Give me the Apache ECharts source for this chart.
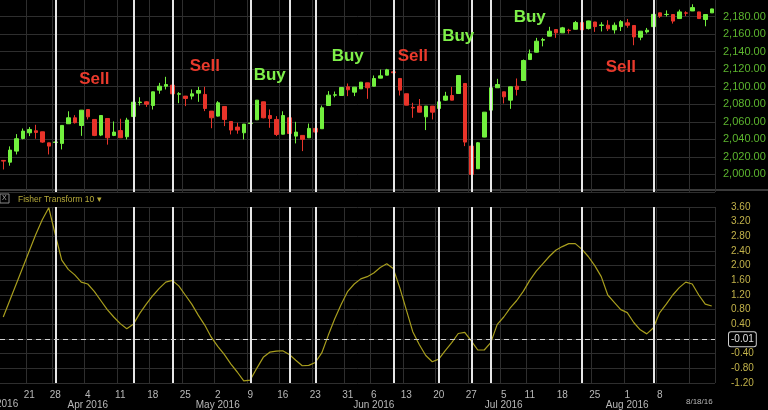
<!DOCTYPE html>
<html>
<head>
<meta charset="utf-8">
<script src="https://cdn.jsdelivr.net/npm/echarts@6/dist/echarts.min.js"></script>
<style>
  html, body { margin: 0; padding: 0; background: #000; }
  #chart { width: 768px; height: 410px; }
</style>
</head>
<body>
<div id="chart"></div>
<script>
// trading days, Mar 15 - Aug 18 2016
var tradingDays = {
    3: [15, 16, 17, 18, 21, 22, 23, 24, 28, 29, 30, 31],
    4: [1, 4, 5, 6, 7, 8, 11, 12, 13, 14, 15, 18, 19, 20, 21, 22, 25, 26, 27, 28, 29],
    5: [2, 3, 4, 5, 6, 9, 10, 11, 12, 13, 16, 17, 18, 19, 20, 23, 24, 25, 26, 27, 31],
    6: [1, 2, 3, 6, 7, 8, 9, 10, 13, 14, 15, 16, 17, 20, 21, 22, 23, 24, 27, 28, 29, 30],
    7: [1, 5, 6, 7, 8, 11, 12, 13, 14, 15, 18, 19, 20, 21, 22, 25, 26, 27, 28, 29],
    8: [1, 2, 3, 4, 5, 8, 9, 10, 11, 12, 15, 16, 17, 18]
};
var monthNames = ['', '', '', 'Mar', 'Apr', 'May', 'Jun', 'Jul', 'Aug'];

var opens = [2016, 2014, 2026.6, 2041, 2047.5, 2049.8, 2048.6, 2036, 2036.5, 2035.4, 2057.8, 2064.6,
    2055.8, 2074, 2062.7, 2044.9, 2063.8, 2044.5, 2050, 2043, 2066, 2082, 2082.8, 2078.6, 2096.1, 2100.6, 2101.8, 2091.5, 2089.3, 2089.3, 2092.7, 2091.2, 2072.2,
    2066.5, 2077.5, 2060.4, 2054, 2047.5, 2058, 2062.3, 2082.8, 2067.2, 2062.7, 2045.9, 2064.6, 2043.7, 2044.5, 2041.8, 2052.5, 2052.1, 2078.6, 2090.4, 2090, 2099.9,
    2093.8, 2097.6, 2104.4, 2100.6, 2109.8, 2113.2, 2117, 2109.4, 2092, 2076.4, 2077.9, 2065.7, 2077.9, 2075.2, 2084.7, 2090, 2092.3, 2103.7, 2032.3, 2006.5, 2042.6, 2073.3,
    2098.8, 2094.2, 2084.7, 2100.6, 2107.1, 2131, 2139.4, 2153, 2157.6, 2165.2, 2161.4, 2164.4, 2165.5, 2173.1, 2166.3, 2173.8, 2169.8, 2170.1, 2164.8, 2168.5,
    2172.8, 2169.8, 2156.4, 2162.5, 2168.5, 2184.2, 2182.3, 2182.3, 2177.7, 2184.2, 2186.4, 2185.3, 2176.6, 2184.2];
var closes = [2015.2, 2027.8, 2040.7, 2049.4, 2051.3, 2047.9, 2036.9, 2032.3, 2037, 2055.9, 2064.6, 2059,
    2073.3, 2065.7, 2044.5, 2067.2, 2041.8, 2048.3, 2041.8, 2062, 2082.4, 2082.5, 2080, 2094.2, 2100.6, 2102.5, 2091.9, 2092, 2086.6, 2091.9, 2095.7, 2075.2, 2064.6,
    2081.7, 2062.7, 2050.6, 2050.6, 2057.4, 2058.5, 2084.7, 2064.6, 2063.8, 2045.6, 2067.2, 2046.7, 2048.3, 2040, 2052.5, 2048.3, 2076, 2090.4, 2090.8, 2099.1, 2096.5,
    2099.5, 2105.2, 2098.8, 2109.4, 2112.4, 2119.3, 2115.9, 2096.1, 2079, 2075.8, 2071, 2077.9, 2071, 2082.8, 2089.3, 2084.7, 2112.8, 2036.9, 2000, 2036.1, 2071, 2098.8,
    2102.5, 2088.5, 2099.9, 2096.9, 2129.9, 2137.5, 2151.9, 2153.8, 2163.3, 2161.4, 2167.1, 2164, 2173.1, 2164.8, 2175, 2168.5, 2170.5, 2166, 2170.1, 2174.2,
    2170.1, 2156.8, 2163.3, 2164.4, 2182.5, 2180.4, 2182.5, 2174.8, 2185.3, 2183.8, 2190.2, 2177.7, 2182.3, 2188.7];
var lows = [2005.7, 2010, 2022.8, 2040, 2043.7, 2040.7, 2036, 2022.8, 2032, 2028.5, 2057.8, 2058,
    2044, 2062.7, 2043.7, 2043.7, 2034, 2043.7, 2041.5, 2040, 2065.5, 2078.6, 2077, 2074, 2092, 2096.9, 2091.2, 2081.3, 2077.9, 2085.5, 2082.8, 2072.2, 2052.7,
    2066, 2055.1, 2045.6, 2046.4, 2039.9, 2056, 2062, 2064, 2053.2, 2043.7, 2045.6, 2046.5, 2035.4, 2026.6, 2041.5, 2047.5, 2052, 2078.4, 2088, 2089.8, 2089.3,
    2089.3, 2097.4, 2086.2, 2100.4, 2109.6, 2113, 2114, 2090, 2078.8, 2064.6, 2070.8, 2050.6, 2062.7, 2075, 2084, 2084.5, 2092, 2032.3, 2000, 2006.3, 2042.4, 2070.3,
    2098.6, 2080.9, 2074.8, 2090, 2106.9, 2130.8, 2139, 2146, 2157.4, 2155.7, 2161.2, 2160.6, 2165.3, 2162.5, 2165.2, 2162.5, 2163, 2163.5, 2160.6, 2163.5,
    2167.3, 2147.3, 2153, 2160.6, 2168.3, 2178.5, 2180, 2172, 2177.5, 2180.5, 2186.2, 2177.5, 2168.9, 2184];
var highs = [2016.2, 2032, 2046, 2052.4, 2054, 2056.6, 2048.8, 2036.2, 2042.6, 2056, 2072, 2067.6,
    2073.5, 2074.2, 2063, 2067.4, 2064, 2060.4, 2063.5, 2064.6, 2083.6, 2088, 2083.6, 2094.4, 2104.4, 2111.3, 2102.4, 2093.8, 2089.5, 2096.9, 2099.9, 2099.9, 2072.4,
    2083.6, 2077.7, 2060.6, 2058.9, 2057.6, 2060, 2084.9, 2083, 2074.1, 2066.5, 2072, 2064.8, 2060, 2044.7, 2058, 2052.7, 2078.6, 2095, 2094.5, 2099.3, 2103.7,
    2099.7, 2105.4, 2104.6, 2112.8, 2119.6, 2120.4, 2118.5, 2109.6, 2092.2, 2081.7, 2086, 2078.1, 2078.1, 2083, 2094.2, 2099.9, 2113, 2103.9, 2032.5, 2036.9, 2071.2, 2099,
    2109, 2094.4, 2100.1, 2109.4, 2131, 2142.4, 2155.7, 2155.7, 2168.3, 2165.4, 2168.2, 2166, 2175, 2174, 2175.2, 2174, 2173.5, 2175.8, 2173.2, 2176,
    2177.3, 2170, 2163.5, 2167, 2182.7, 2184.4, 2187, 2182.5, 2187.9, 2186, 2194, 2185.5, 2182.5, 2188.9];

var fisher = [0.6, 1.05, 1.5, 1.95, 2.4, 2.85, 3.25, 3.58, 2.85, 2.15, 1.9, 1.75,
    1.55, 1.5, 1.3, 1.05, 0.8, 0.6, 0.42, 0.28, 0.4, 0.7, 0.95, 1.18, 1.38, 1.55, 1.6, 1.45, 1.2, 0.95, 0.65, 0.38, 0.05,
    -0.2, -0.42, -0.68, -0.9, -1.14, -1.12, -0.8, -0.5, -0.36, -0.33, -0.32, -0.42, -0.58, -0.73, -0.72, -0.64, -0.38, 0.1, 0.55, 0.95, 1.3,
    1.5, 1.64, 1.7, 1.8, 1.95, 2.05, 1.92, 1.4, 0.8, 0.2, -0.15, -0.45, -0.62, -0.55, -0.32, -0.1, 0.15, 0.18, -0.05, -0.3, -0.3, -0.1,
    0.4, 0.6, 0.85, 1.05, 1.3, 1.6, 1.85, 2.05, 2.25, 2.42, 2.52, 2.6, 2.6, 2.45, 2.25, 2.0, 1.7, 1.2, 1.0, 0.8,
    0.72, 0.45, 0.25, 0.14, 0.3, 0.72, 0.95, 1.2, 1.4, 1.55, 1.5, 1.2, 0.95, 0.9];
var fisherLast = -0.01;

var signalDays = ['3/28', '4/13', '4/21', '5/9', '5/17', '5/23', '6/9', '6/20', '6/27', '6/30', '7/21', '8/5'];
var signalTexts = [
    ['Sell', '4/5', 2108], ['Sell', '4/28', 2123], ['Buy', '5/12', 2113], ['Buy', '5/31', 2134.5],
    ['Sell', '6/14', 2134.5], ['Buy', '6/23', 2158], ['Buy', '7/11', 2179], ['Sell', '7/29', 2122]
];

var dates = [];
Object.keys(tradingDays).forEach(function (m) {
    tradingDays[m].forEach(function (d) { dates.push(m + '/' + d); });
});

// first trading day of each week, and the first such label in each month
var weekStart = dates.map(function (s, i) {
    if (i === 0) return false;
    var a = s.split('/'), b = dates[i - 1].split('/');
    var da = new Date(2016, a[0] - 1, +a[1]).getDay();
    var db = new Date(2016, b[0] - 1, +b[1]).getDay();
    return da <= db;
});
var labelText = {};
var lastMonth = '3';
dates.forEach(function (s, i) {
    if (!weekStart[i]) return;
    var p = s.split('/');
    if (p[0] !== lastMonth) {
        labelText[s] = p[1] + '\n' + monthNames[p[0]] + ' 2016';
        lastMonth = p[0];
    } else {
        labelText[s] = p[1];
    }
});

var candles = dates.map(function (d, i) {
    return [opens[i], closes[i], lows[i], highs[i]];
});

var UP = '#72f03e', DOWN = '#e8342a';

var vLines = {
    silent: true, symbol: 'none', animation: false,
    label: { show: false },
    lineStyle: { color: '#e6e6e6', width: 2, type: 'solid' },
    data: signalDays.map(function (d) { return { xAxis: d }; })
};

var chart = echarts.init(document.getElementById('chart'));
chart.setOption({
    backgroundColor: '#000',
    animation: false,
    textStyle: { fontFamily: 'Liberation Sans, Arial, sans-serif' },
    grid: [
        { left: 0, width: 715, top: -1, height: 193, outerBoundsMode: 'none', containLabel: false },
        { left: 0, width: 715, top: 207, height: 176, outerBoundsMode: 'none', containLabel: false }
    ],
    xAxis: [
        {
            type: 'category', gridIndex: 0, data: dates, boundaryGap: true,
            axisLine: { show: false }, axisTick: { show: false }, axisLabel: { show: false },
            splitLine: { show: true, interval: function (i) { return weekStart[i]; }, lineStyle: { color: '#2e2e2e' } }
        },
        {
            type: 'category', gridIndex: 1, data: dates, boundaryGap: true,
            axisLine: { show: false }, axisTick: { show: false },
            splitLine: { show: true, interval: function (i) { return weekStart[i]; }, lineStyle: { color: '#2e2e2e' } },
            axisLabel: {
                color: '#b8b8b8', fontSize: 10, margin: 7, lineHeight: 10,
                interval: function (i) { return weekStart[i] && dates[i] !== '8/15'; },
                formatter: function (v) { return labelText[v] || ''; }
            }
        }
    ],
    yAxis: [
        {
            type: 'value', gridIndex: 0, position: 'right', min: 1980, max: 2200, interval: 20,
            axisLine: { show: false }, axisTick: { show: false },
            splitLine: { lineStyle: { color: '#2e2e2e' } },
            axisLabel: {
                color: '#5cb52e', fontSize: 11, margin: 8,
                formatter: function (v) {
                    if (v < 2000 || v > 2180) return '';
                    return v.toLocaleString('en-US', { minimumFractionDigits: 2 });
                }
            }
        },
        {
            type: 'value', gridIndex: 1, position: 'right', min: -1.2, max: 3.6, interval: 0.4,
            axisLine: { show: false }, axisTick: { show: false },
            splitLine: { lineStyle: { color: '#2e2e2e' } },
            axisLabel: {
                color: '#c2b24a', fontSize: 10, margin: 16,
                formatter: function (v) { return Math.abs(v) < 0.01 ? '' : v.toFixed(2); }
            }
        }
    ],
    series: [
        {
            type: 'candlestick', xAxisIndex: 0, yAxisIndex: 0, data: candles, barWidth: 4,
            itemStyle: { color: UP, color0: DOWN, borderColor: UP, borderColor0: DOWN, borderWidth: 1 },
            markLine: vLines,
            markPoint: {
                silent: true,
                data: signalTexts.map(function (s) {
                    return {
                        coord: [s[1], s[2]], symbolSize: 0,
                        label: {
                            show: true, formatter: s[0], fontSize: 17, fontWeight: 'bold',
                            color: s[0] === 'Sell' ? '#ea3a2c' : '#7ff04a'
                        }
                    };
                })
            }
        },
        {
            type: 'line', xAxisIndex: 1, yAxisIndex: 1, data: fisher, showSymbol: false,
            lineStyle: { color: '#a89e1e', width: 1.2 },
            markLine: {
                silent: true, symbol: 'none', animation: false,
                data: vLines.data.concat([{
                    yAxis: fisherLast,
                    lineStyle: { color: '#d0d0d0', type: [5, 4], width: 1 },
                    label: {
                        show: true, position: 'end', formatter: fisherLast.toFixed(2),
                        color: '#e0e0e0', fontSize: 10, backgroundColor: '#000',
                        borderColor: '#cfcfcf', borderWidth: 1, borderRadius: 2, padding: [2, 2], distance: 14
                    }
                }]),
                label: { show: false },
                lineStyle: { color: '#e6e6e6', width: 2, type: 'solid' }
            }
        }
    ],
    graphic: [
        { type: 'rect', shape: { x: 0, y: 189, width: 768, height: 2 }, style: { fill: '#3a3a3a' } },
        { type: 'rect', shape: { x: 0, y: 194, width: 9, height: 9 }, style: { fill: '#000', stroke: '#888', lineWidth: 1 } },
        { type: 'text', x: 2, y: 195, style: { text: 'X', fill: '#aaa', fontSize: 7 } },
        { type: 'text', x: 18, y: 195, style: { text: 'Fisher Transform 10 \u25be', fill: '#b5a93a', fontSize: 8.5 } },
        { type: 'text', x: -4, y: 399, style: { text: '2016', fill: '#b8b8b8', fontSize: 10 } },
        { type: 'text', x: 686, y: 398, style: { text: '8/18/16', fill: '#b8b8b8', fontSize: 8 } }
    ]
});
</script>
</body>
</html>
